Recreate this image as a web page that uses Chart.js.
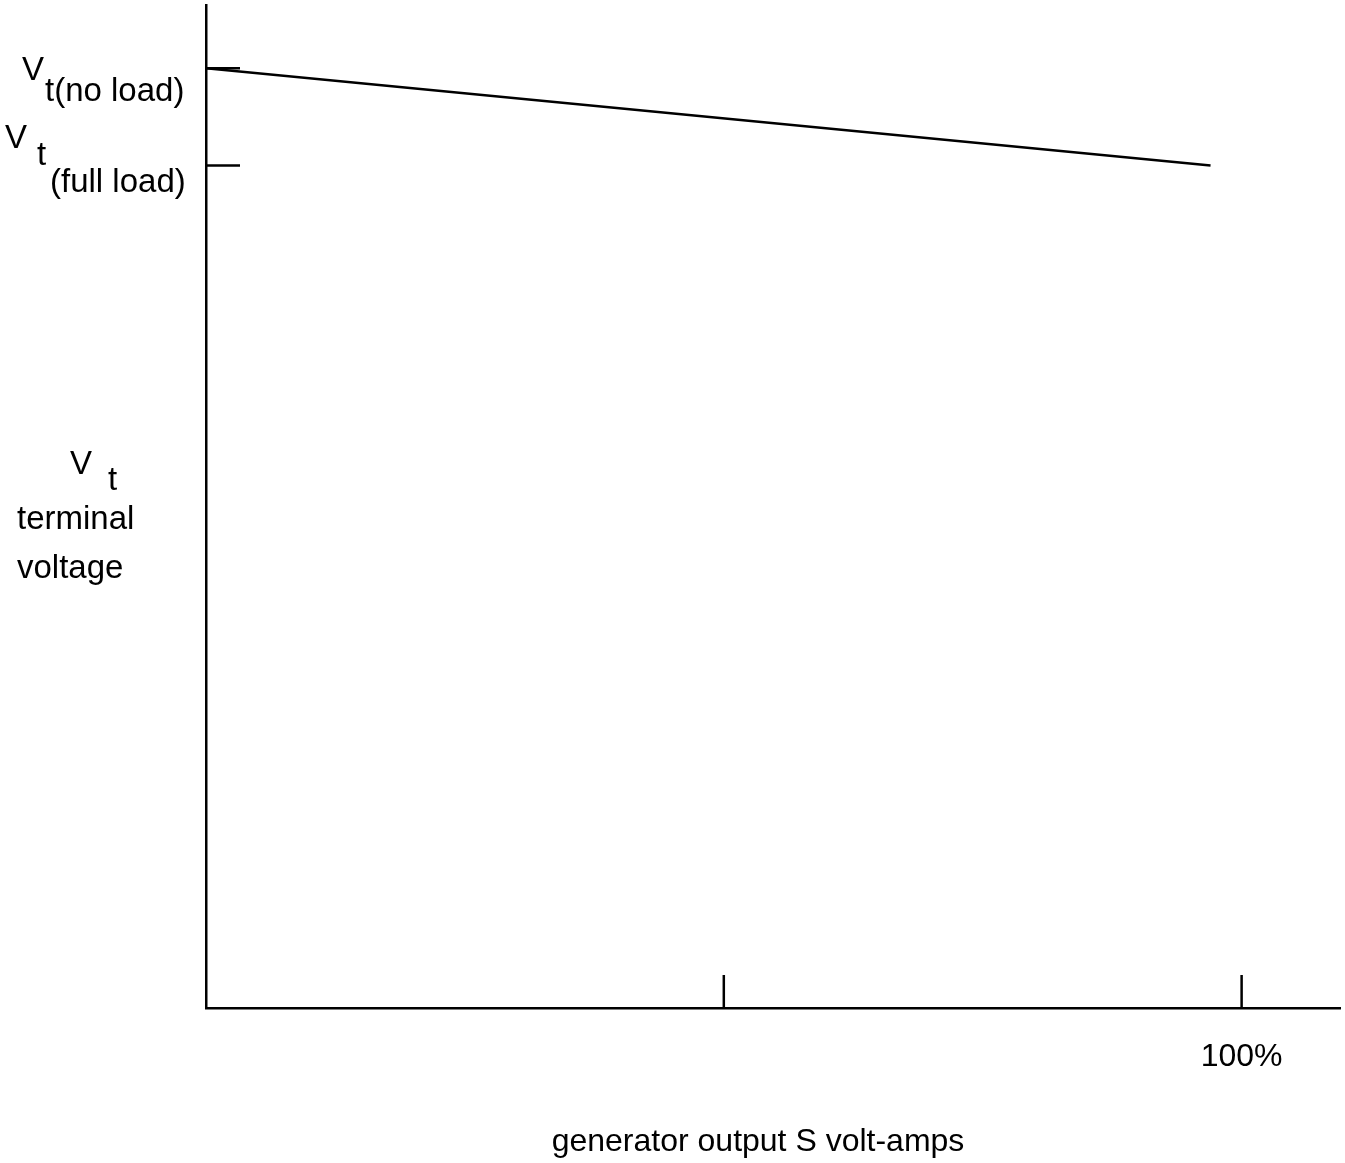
<!DOCTYPE html>
<html><head><meta charset="utf-8">
<script src="https://cdn.jsdelivr.net/npm/chart.js@4"></script>
<style>html,body{margin:0;padding:0;background:#fff}#w{width:1345px;height:1163px}</style>
</head><body><div id="w"><canvas id="c"></canvas></div>
<script>
const loadPct = [0, 97];
const voltage = [93.7, 84.0];
const xTicks = [50, 100];
const xTickLabels = ['', '100%'];
const yTicks = [93.7, 84.0];

const F = '"Liberation Sans", Arial, sans-serif';
const deco = {
  id: 'deco',
  afterDraw(ch) {
    const c = ch.ctx, x = ch.scales.x, y = ch.scales.y;
    c.save();
    c.strokeStyle = '#000'; c.lineWidth = 2.5;
    xTicks.forEach(v => { const px = x.getPixelForValue(v);
      c.beginPath(); c.moveTo(px, y.bottom); c.lineTo(px, y.bottom - 33); c.stroke(); });
    yTicks.forEach(v => { const py = y.getPixelForValue(v);
      c.beginPath(); c.moveTo(x.left, py); c.lineTo(x.left + 34, py); c.stroke(); });
    c.fillStyle = '#000'; c.textBaseline = 'alphabetic';
    c.font = '32px ' + F; c.textAlign = 'center';
    xTicks.forEach((v, i) => c.fillText(xTickLabels[i], x.getPixelForValue(v), 1066));
    c.fillText('generator output S volt-amps', 758, 1151);
    c.textAlign = 'left';
    c.font = '33px ' + F;
    c.fillText('V', 22, 80);
    c.fillText('t(no load)', 45, 101);
    c.fillText('V', 5, 148);
    c.fillText('t', 37, 165);
    c.fillText('(full load)', 50, 192);
    c.fillText('V', 70, 474);
    c.fillText('t', 108, 490);
    c.fillText('terminal', 17, 529);
    c.fillText('voltage', 17, 578);
    c.restore();
  }
};

new Chart(document.getElementById('c'), {
  type: 'line',
  data: { datasets: [{ data: loadPct.map((v, i) => ({ x: v, y: voltage[i] })),
    borderColor: '#000', borderWidth: 2.5, pointRadius: 0, fill: false, tension: 0 }] },
  options: {
    responsive: true, maintainAspectRatio: false, animation: false,
    layout: { padding: { left: 206, top: 5, right: 5, bottom: 155 } },
    plugins: { legend: { display: false }, tooltip: { enabled: false } },
    scales: {
      x: { type: 'linear', min: 0, max: 109.5,
        grid: { display: false, drawTicks: false },
        border: { display: true, color: '#000', width: 2.5 },
        ticks: { display: false } },
      y: { min: 0, max: 100,
        grid: { display: false, drawTicks: false },
        border: { display: true, color: '#000', width: 2.5 },
        ticks: { display: false } }
    }
  },
  plugins: [deco]
});
</script></body></html>
